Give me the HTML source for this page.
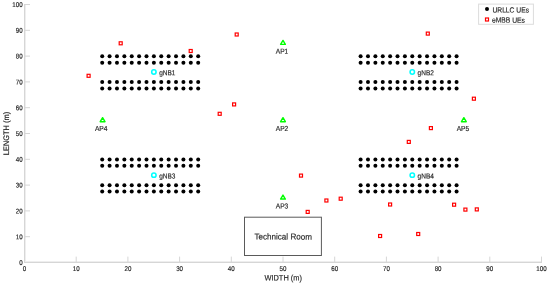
<!DOCTYPE html>
<html><head><meta charset="utf-8"><style>
html,body{margin:0;padding:0;background:#fff;width:550px;height:285px;overflow:hidden}
svg{display:block}
text{font-family:"Liberation Sans",Arial,sans-serif;fill:#262626;stroke:#262626;stroke-width:0.15px}
.tk{font-size:6.2px}
.lb{font-size:7.45px}
.tx{font-size:6.5px}
.lg{font-size:6.75px}
.ap{font-size:6.65px}
.tr{font-size:8.1px}
</style></head><body>
<svg width="550" height="285" viewBox="0 0 550 285">
<rect width="550" height="285" fill="#fff"/>
<line x1="25.5" y1="4" x2="25.5" y2="262" stroke="#eeeeee" stroke-width="1"/>
<line x1="25" y1="261.5" x2="542" y2="261.5" stroke="#eeeeee" stroke-width="1"/>
<line x1="24.5" y1="4" x2="24.5" y2="263" stroke="#d6d6d6" stroke-width="1"/>
<line x1="24" y1="262.5" x2="542" y2="262.5" stroke="#d6d6d6" stroke-width="1"/>
<text transform="translate(24.50,270.90) rotate(0.1) scale(1,1.12)" class="tk" text-anchor="middle">0</text>
<line x1="76.20" y1="262" x2="76.20" y2="256.6" stroke="#d6d6d6" stroke-width="1"/>
<text transform="translate(76.20,270.90) rotate(0.1) scale(1,1.12)" class="tk" text-anchor="middle">10</text>
<line x1="127.90" y1="262" x2="127.90" y2="256.6" stroke="#d6d6d6" stroke-width="1"/>
<text transform="translate(127.90,270.90) rotate(0.1) scale(1,1.12)" class="tk" text-anchor="middle">20</text>
<line x1="179.60" y1="262" x2="179.60" y2="256.6" stroke="#d6d6d6" stroke-width="1"/>
<text transform="translate(179.60,270.90) rotate(0.1) scale(1,1.12)" class="tk" text-anchor="middle">30</text>
<line x1="231.30" y1="262" x2="231.30" y2="256.6" stroke="#d6d6d6" stroke-width="1"/>
<text transform="translate(231.30,270.90) rotate(0.1) scale(1,1.12)" class="tk" text-anchor="middle">40</text>
<line x1="283.00" y1="262" x2="283.00" y2="256.6" stroke="#d6d6d6" stroke-width="1"/>
<text transform="translate(283.00,270.90) rotate(0.1) scale(1,1.12)" class="tk" text-anchor="middle">50</text>
<line x1="334.70" y1="262" x2="334.70" y2="256.6" stroke="#d6d6d6" stroke-width="1"/>
<text transform="translate(334.70,270.90) rotate(0.1) scale(1,1.12)" class="tk" text-anchor="middle">60</text>
<line x1="386.40" y1="262" x2="386.40" y2="256.6" stroke="#d6d6d6" stroke-width="1"/>
<text transform="translate(386.40,270.90) rotate(0.1) scale(1,1.12)" class="tk" text-anchor="middle">70</text>
<line x1="438.10" y1="262" x2="438.10" y2="256.6" stroke="#d6d6d6" stroke-width="1"/>
<text transform="translate(438.10,270.90) rotate(0.1) scale(1,1.12)" class="tk" text-anchor="middle">80</text>
<line x1="489.80" y1="262" x2="489.80" y2="256.6" stroke="#d6d6d6" stroke-width="1"/>
<text transform="translate(489.80,270.90) rotate(0.1) scale(1,1.12)" class="tk" text-anchor="middle">90</text>
<line x1="541.50" y1="262" x2="541.50" y2="256.6" stroke="#d6d6d6" stroke-width="1"/>
<text transform="translate(541.50,270.90) rotate(0.1) scale(1,1.12)" class="tk" text-anchor="middle">100</text>
<text transform="translate(22.70,265.00) rotate(0.1) scale(1,1.12)" class="tk" text-anchor="end">0</text>
<line x1="25" y1="236.70" x2="30" y2="236.70" stroke="#d6d6d6" stroke-width="1"/>
<text transform="translate(22.70,239.20) rotate(0.1) scale(1,1.12)" class="tk" text-anchor="end">10</text>
<line x1="25" y1="210.90" x2="30" y2="210.90" stroke="#d6d6d6" stroke-width="1"/>
<text transform="translate(22.70,213.40) rotate(0.1) scale(1,1.12)" class="tk" text-anchor="end">20</text>
<line x1="25" y1="185.10" x2="30" y2="185.10" stroke="#d6d6d6" stroke-width="1"/>
<text transform="translate(22.70,187.60) rotate(0.1) scale(1,1.12)" class="tk" text-anchor="end">30</text>
<line x1="25" y1="159.30" x2="30" y2="159.30" stroke="#d6d6d6" stroke-width="1"/>
<text transform="translate(22.70,161.80) rotate(0.1) scale(1,1.12)" class="tk" text-anchor="end">40</text>
<line x1="25" y1="133.50" x2="30" y2="133.50" stroke="#d6d6d6" stroke-width="1"/>
<text transform="translate(22.70,136.00) rotate(0.1) scale(1,1.12)" class="tk" text-anchor="end">50</text>
<line x1="25" y1="107.70" x2="30" y2="107.70" stroke="#d6d6d6" stroke-width="1"/>
<text transform="translate(22.70,110.20) rotate(0.1) scale(1,1.12)" class="tk" text-anchor="end">60</text>
<line x1="25" y1="81.90" x2="30" y2="81.90" stroke="#d6d6d6" stroke-width="1"/>
<text transform="translate(22.70,84.40) rotate(0.1) scale(1,1.12)" class="tk" text-anchor="end">70</text>
<line x1="25" y1="56.10" x2="30" y2="56.10" stroke="#d6d6d6" stroke-width="1"/>
<text transform="translate(22.70,58.60) rotate(0.1) scale(1,1.12)" class="tk" text-anchor="end">80</text>
<line x1="25" y1="30.30" x2="30" y2="30.30" stroke="#d6d6d6" stroke-width="1"/>
<text transform="translate(22.70,32.80) rotate(0.1) scale(1,1.12)" class="tk" text-anchor="end">90</text>
<line x1="25" y1="4.50" x2="30" y2="4.50" stroke="#d6d6d6" stroke-width="1"/>
<text transform="translate(22.70,7.00) rotate(0.1) scale(1,1.12)" class="tk" text-anchor="end">100</text>
<text transform="translate(283.20,280.60) rotate(0.1) scale(1,1.08)" class="lb" text-anchor="middle">WIDTH (m)</text>
<text transform="translate(9.00,133.50) rotate(-90) rotate(0.1) scale(1,1.08)" class="lb" text-anchor="middle">LENGTH (m)</text>
<rect x="244.5" y="217.2" width="76.9" height="38.3" fill="none" stroke="#5a5a5a" stroke-width="1"/>
<text transform="translate(283.20,239.60) rotate(0.1) scale(1,1.05)" class="tr" text-anchor="middle">Technical Room</text>
<circle cx="102.20" cy="56.26" r="2.0" fill="#000"/>
<circle cx="109.58" cy="56.26" r="2.0" fill="#000"/>
<circle cx="116.97" cy="56.26" r="2.0" fill="#000"/>
<circle cx="124.35" cy="56.26" r="2.0" fill="#000"/>
<circle cx="131.73" cy="56.26" r="2.0" fill="#000"/>
<circle cx="139.11" cy="56.26" r="2.0" fill="#000"/>
<circle cx="146.50" cy="56.26" r="2.0" fill="#000"/>
<circle cx="153.88" cy="56.26" r="2.0" fill="#000"/>
<circle cx="161.26" cy="56.26" r="2.0" fill="#000"/>
<circle cx="168.65" cy="56.26" r="2.0" fill="#000"/>
<circle cx="176.03" cy="56.26" r="2.0" fill="#000"/>
<circle cx="183.41" cy="56.26" r="2.0" fill="#000"/>
<circle cx="190.79" cy="56.26" r="2.0" fill="#000"/>
<circle cx="198.18" cy="56.26" r="2.0" fill="#000"/>
<circle cx="102.20" cy="62.70" r="2.0" fill="#000"/>
<circle cx="109.58" cy="62.70" r="2.0" fill="#000"/>
<circle cx="116.97" cy="62.70" r="2.0" fill="#000"/>
<circle cx="124.35" cy="62.70" r="2.0" fill="#000"/>
<circle cx="131.73" cy="62.70" r="2.0" fill="#000"/>
<circle cx="139.11" cy="62.70" r="2.0" fill="#000"/>
<circle cx="146.50" cy="62.70" r="2.0" fill="#000"/>
<circle cx="153.88" cy="62.70" r="2.0" fill="#000"/>
<circle cx="161.26" cy="62.70" r="2.0" fill="#000"/>
<circle cx="168.65" cy="62.70" r="2.0" fill="#000"/>
<circle cx="176.03" cy="62.70" r="2.0" fill="#000"/>
<circle cx="183.41" cy="62.70" r="2.0" fill="#000"/>
<circle cx="190.79" cy="62.70" r="2.0" fill="#000"/>
<circle cx="198.18" cy="62.70" r="2.0" fill="#000"/>
<circle cx="102.20" cy="82.04" r="2.0" fill="#000"/>
<circle cx="109.58" cy="82.04" r="2.0" fill="#000"/>
<circle cx="116.97" cy="82.04" r="2.0" fill="#000"/>
<circle cx="124.35" cy="82.04" r="2.0" fill="#000"/>
<circle cx="131.73" cy="82.04" r="2.0" fill="#000"/>
<circle cx="139.11" cy="82.04" r="2.0" fill="#000"/>
<circle cx="146.50" cy="82.04" r="2.0" fill="#000"/>
<circle cx="153.88" cy="82.04" r="2.0" fill="#000"/>
<circle cx="161.26" cy="82.04" r="2.0" fill="#000"/>
<circle cx="168.65" cy="82.04" r="2.0" fill="#000"/>
<circle cx="176.03" cy="82.04" r="2.0" fill="#000"/>
<circle cx="183.41" cy="82.04" r="2.0" fill="#000"/>
<circle cx="190.79" cy="82.04" r="2.0" fill="#000"/>
<circle cx="198.18" cy="82.04" r="2.0" fill="#000"/>
<circle cx="102.20" cy="88.48" r="2.0" fill="#000"/>
<circle cx="109.58" cy="88.48" r="2.0" fill="#000"/>
<circle cx="116.97" cy="88.48" r="2.0" fill="#000"/>
<circle cx="124.35" cy="88.48" r="2.0" fill="#000"/>
<circle cx="131.73" cy="88.48" r="2.0" fill="#000"/>
<circle cx="139.11" cy="88.48" r="2.0" fill="#000"/>
<circle cx="146.50" cy="88.48" r="2.0" fill="#000"/>
<circle cx="153.88" cy="88.48" r="2.0" fill="#000"/>
<circle cx="161.26" cy="88.48" r="2.0" fill="#000"/>
<circle cx="168.65" cy="88.48" r="2.0" fill="#000"/>
<circle cx="176.03" cy="88.48" r="2.0" fill="#000"/>
<circle cx="183.41" cy="88.48" r="2.0" fill="#000"/>
<circle cx="190.79" cy="88.48" r="2.0" fill="#000"/>
<circle cx="198.18" cy="88.48" r="2.0" fill="#000"/>
<circle cx="102.20" cy="159.38" r="2.0" fill="#000"/>
<circle cx="109.58" cy="159.38" r="2.0" fill="#000"/>
<circle cx="116.97" cy="159.38" r="2.0" fill="#000"/>
<circle cx="124.35" cy="159.38" r="2.0" fill="#000"/>
<circle cx="131.73" cy="159.38" r="2.0" fill="#000"/>
<circle cx="139.11" cy="159.38" r="2.0" fill="#000"/>
<circle cx="146.50" cy="159.38" r="2.0" fill="#000"/>
<circle cx="153.88" cy="159.38" r="2.0" fill="#000"/>
<circle cx="161.26" cy="159.38" r="2.0" fill="#000"/>
<circle cx="168.65" cy="159.38" r="2.0" fill="#000"/>
<circle cx="176.03" cy="159.38" r="2.0" fill="#000"/>
<circle cx="183.41" cy="159.38" r="2.0" fill="#000"/>
<circle cx="190.79" cy="159.38" r="2.0" fill="#000"/>
<circle cx="198.18" cy="159.38" r="2.0" fill="#000"/>
<circle cx="102.20" cy="165.82" r="2.0" fill="#000"/>
<circle cx="109.58" cy="165.82" r="2.0" fill="#000"/>
<circle cx="116.97" cy="165.82" r="2.0" fill="#000"/>
<circle cx="124.35" cy="165.82" r="2.0" fill="#000"/>
<circle cx="131.73" cy="165.82" r="2.0" fill="#000"/>
<circle cx="139.11" cy="165.82" r="2.0" fill="#000"/>
<circle cx="146.50" cy="165.82" r="2.0" fill="#000"/>
<circle cx="153.88" cy="165.82" r="2.0" fill="#000"/>
<circle cx="161.26" cy="165.82" r="2.0" fill="#000"/>
<circle cx="168.65" cy="165.82" r="2.0" fill="#000"/>
<circle cx="176.03" cy="165.82" r="2.0" fill="#000"/>
<circle cx="183.41" cy="165.82" r="2.0" fill="#000"/>
<circle cx="190.79" cy="165.82" r="2.0" fill="#000"/>
<circle cx="198.18" cy="165.82" r="2.0" fill="#000"/>
<circle cx="102.20" cy="185.16" r="2.0" fill="#000"/>
<circle cx="109.58" cy="185.16" r="2.0" fill="#000"/>
<circle cx="116.97" cy="185.16" r="2.0" fill="#000"/>
<circle cx="124.35" cy="185.16" r="2.0" fill="#000"/>
<circle cx="131.73" cy="185.16" r="2.0" fill="#000"/>
<circle cx="139.11" cy="185.16" r="2.0" fill="#000"/>
<circle cx="146.50" cy="185.16" r="2.0" fill="#000"/>
<circle cx="153.88" cy="185.16" r="2.0" fill="#000"/>
<circle cx="161.26" cy="185.16" r="2.0" fill="#000"/>
<circle cx="168.65" cy="185.16" r="2.0" fill="#000"/>
<circle cx="176.03" cy="185.16" r="2.0" fill="#000"/>
<circle cx="183.41" cy="185.16" r="2.0" fill="#000"/>
<circle cx="190.79" cy="185.16" r="2.0" fill="#000"/>
<circle cx="198.18" cy="185.16" r="2.0" fill="#000"/>
<circle cx="102.20" cy="191.61" r="2.0" fill="#000"/>
<circle cx="109.58" cy="191.61" r="2.0" fill="#000"/>
<circle cx="116.97" cy="191.61" r="2.0" fill="#000"/>
<circle cx="124.35" cy="191.61" r="2.0" fill="#000"/>
<circle cx="131.73" cy="191.61" r="2.0" fill="#000"/>
<circle cx="139.11" cy="191.61" r="2.0" fill="#000"/>
<circle cx="146.50" cy="191.61" r="2.0" fill="#000"/>
<circle cx="153.88" cy="191.61" r="2.0" fill="#000"/>
<circle cx="161.26" cy="191.61" r="2.0" fill="#000"/>
<circle cx="168.65" cy="191.61" r="2.0" fill="#000"/>
<circle cx="176.03" cy="191.61" r="2.0" fill="#000"/>
<circle cx="183.41" cy="191.61" r="2.0" fill="#000"/>
<circle cx="190.79" cy="191.61" r="2.0" fill="#000"/>
<circle cx="198.18" cy="191.61" r="2.0" fill="#000"/>
<circle cx="360.60" cy="56.26" r="2.0" fill="#000"/>
<circle cx="367.98" cy="56.26" r="2.0" fill="#000"/>
<circle cx="375.37" cy="56.26" r="2.0" fill="#000"/>
<circle cx="382.75" cy="56.26" r="2.0" fill="#000"/>
<circle cx="390.13" cy="56.26" r="2.0" fill="#000"/>
<circle cx="397.51" cy="56.26" r="2.0" fill="#000"/>
<circle cx="404.90" cy="56.26" r="2.0" fill="#000"/>
<circle cx="412.28" cy="56.26" r="2.0" fill="#000"/>
<circle cx="419.66" cy="56.26" r="2.0" fill="#000"/>
<circle cx="427.05" cy="56.26" r="2.0" fill="#000"/>
<circle cx="434.43" cy="56.26" r="2.0" fill="#000"/>
<circle cx="441.81" cy="56.26" r="2.0" fill="#000"/>
<circle cx="449.19" cy="56.26" r="2.0" fill="#000"/>
<circle cx="456.58" cy="56.26" r="2.0" fill="#000"/>
<circle cx="360.60" cy="62.70" r="2.0" fill="#000"/>
<circle cx="367.98" cy="62.70" r="2.0" fill="#000"/>
<circle cx="375.37" cy="62.70" r="2.0" fill="#000"/>
<circle cx="382.75" cy="62.70" r="2.0" fill="#000"/>
<circle cx="390.13" cy="62.70" r="2.0" fill="#000"/>
<circle cx="397.51" cy="62.70" r="2.0" fill="#000"/>
<circle cx="404.90" cy="62.70" r="2.0" fill="#000"/>
<circle cx="412.28" cy="62.70" r="2.0" fill="#000"/>
<circle cx="419.66" cy="62.70" r="2.0" fill="#000"/>
<circle cx="427.05" cy="62.70" r="2.0" fill="#000"/>
<circle cx="434.43" cy="62.70" r="2.0" fill="#000"/>
<circle cx="441.81" cy="62.70" r="2.0" fill="#000"/>
<circle cx="449.19" cy="62.70" r="2.0" fill="#000"/>
<circle cx="456.58" cy="62.70" r="2.0" fill="#000"/>
<circle cx="360.60" cy="82.04" r="2.0" fill="#000"/>
<circle cx="367.98" cy="82.04" r="2.0" fill="#000"/>
<circle cx="375.37" cy="82.04" r="2.0" fill="#000"/>
<circle cx="382.75" cy="82.04" r="2.0" fill="#000"/>
<circle cx="390.13" cy="82.04" r="2.0" fill="#000"/>
<circle cx="397.51" cy="82.04" r="2.0" fill="#000"/>
<circle cx="404.90" cy="82.04" r="2.0" fill="#000"/>
<circle cx="412.28" cy="82.04" r="2.0" fill="#000"/>
<circle cx="419.66" cy="82.04" r="2.0" fill="#000"/>
<circle cx="427.05" cy="82.04" r="2.0" fill="#000"/>
<circle cx="434.43" cy="82.04" r="2.0" fill="#000"/>
<circle cx="441.81" cy="82.04" r="2.0" fill="#000"/>
<circle cx="449.19" cy="82.04" r="2.0" fill="#000"/>
<circle cx="456.58" cy="82.04" r="2.0" fill="#000"/>
<circle cx="360.60" cy="88.48" r="2.0" fill="#000"/>
<circle cx="367.98" cy="88.48" r="2.0" fill="#000"/>
<circle cx="375.37" cy="88.48" r="2.0" fill="#000"/>
<circle cx="382.75" cy="88.48" r="2.0" fill="#000"/>
<circle cx="390.13" cy="88.48" r="2.0" fill="#000"/>
<circle cx="397.51" cy="88.48" r="2.0" fill="#000"/>
<circle cx="404.90" cy="88.48" r="2.0" fill="#000"/>
<circle cx="412.28" cy="88.48" r="2.0" fill="#000"/>
<circle cx="419.66" cy="88.48" r="2.0" fill="#000"/>
<circle cx="427.05" cy="88.48" r="2.0" fill="#000"/>
<circle cx="434.43" cy="88.48" r="2.0" fill="#000"/>
<circle cx="441.81" cy="88.48" r="2.0" fill="#000"/>
<circle cx="449.19" cy="88.48" r="2.0" fill="#000"/>
<circle cx="456.58" cy="88.48" r="2.0" fill="#000"/>
<circle cx="360.60" cy="159.38" r="2.0" fill="#000"/>
<circle cx="367.98" cy="159.38" r="2.0" fill="#000"/>
<circle cx="375.37" cy="159.38" r="2.0" fill="#000"/>
<circle cx="382.75" cy="159.38" r="2.0" fill="#000"/>
<circle cx="390.13" cy="159.38" r="2.0" fill="#000"/>
<circle cx="397.51" cy="159.38" r="2.0" fill="#000"/>
<circle cx="404.90" cy="159.38" r="2.0" fill="#000"/>
<circle cx="412.28" cy="159.38" r="2.0" fill="#000"/>
<circle cx="419.66" cy="159.38" r="2.0" fill="#000"/>
<circle cx="427.05" cy="159.38" r="2.0" fill="#000"/>
<circle cx="434.43" cy="159.38" r="2.0" fill="#000"/>
<circle cx="441.81" cy="159.38" r="2.0" fill="#000"/>
<circle cx="449.19" cy="159.38" r="2.0" fill="#000"/>
<circle cx="456.58" cy="159.38" r="2.0" fill="#000"/>
<circle cx="360.60" cy="165.82" r="2.0" fill="#000"/>
<circle cx="367.98" cy="165.82" r="2.0" fill="#000"/>
<circle cx="375.37" cy="165.82" r="2.0" fill="#000"/>
<circle cx="382.75" cy="165.82" r="2.0" fill="#000"/>
<circle cx="390.13" cy="165.82" r="2.0" fill="#000"/>
<circle cx="397.51" cy="165.82" r="2.0" fill="#000"/>
<circle cx="404.90" cy="165.82" r="2.0" fill="#000"/>
<circle cx="412.28" cy="165.82" r="2.0" fill="#000"/>
<circle cx="419.66" cy="165.82" r="2.0" fill="#000"/>
<circle cx="427.05" cy="165.82" r="2.0" fill="#000"/>
<circle cx="434.43" cy="165.82" r="2.0" fill="#000"/>
<circle cx="441.81" cy="165.82" r="2.0" fill="#000"/>
<circle cx="449.19" cy="165.82" r="2.0" fill="#000"/>
<circle cx="456.58" cy="165.82" r="2.0" fill="#000"/>
<circle cx="360.60" cy="185.16" r="2.0" fill="#000"/>
<circle cx="367.98" cy="185.16" r="2.0" fill="#000"/>
<circle cx="375.37" cy="185.16" r="2.0" fill="#000"/>
<circle cx="382.75" cy="185.16" r="2.0" fill="#000"/>
<circle cx="390.13" cy="185.16" r="2.0" fill="#000"/>
<circle cx="397.51" cy="185.16" r="2.0" fill="#000"/>
<circle cx="404.90" cy="185.16" r="2.0" fill="#000"/>
<circle cx="412.28" cy="185.16" r="2.0" fill="#000"/>
<circle cx="419.66" cy="185.16" r="2.0" fill="#000"/>
<circle cx="427.05" cy="185.16" r="2.0" fill="#000"/>
<circle cx="434.43" cy="185.16" r="2.0" fill="#000"/>
<circle cx="441.81" cy="185.16" r="2.0" fill="#000"/>
<circle cx="449.19" cy="185.16" r="2.0" fill="#000"/>
<circle cx="456.58" cy="185.16" r="2.0" fill="#000"/>
<circle cx="360.60" cy="191.61" r="2.0" fill="#000"/>
<circle cx="367.98" cy="191.61" r="2.0" fill="#000"/>
<circle cx="375.37" cy="191.61" r="2.0" fill="#000"/>
<circle cx="382.75" cy="191.61" r="2.0" fill="#000"/>
<circle cx="390.13" cy="191.61" r="2.0" fill="#000"/>
<circle cx="397.51" cy="191.61" r="2.0" fill="#000"/>
<circle cx="404.90" cy="191.61" r="2.0" fill="#000"/>
<circle cx="412.28" cy="191.61" r="2.0" fill="#000"/>
<circle cx="419.66" cy="191.61" r="2.0" fill="#000"/>
<circle cx="427.05" cy="191.61" r="2.0" fill="#000"/>
<circle cx="434.43" cy="191.61" r="2.0" fill="#000"/>
<circle cx="441.81" cy="191.61" r="2.0" fill="#000"/>
<circle cx="449.19" cy="191.61" r="2.0" fill="#000"/>
<circle cx="456.58" cy="191.61" r="2.0" fill="#000"/>
<circle cx="153.88" cy="72.02" r="2.2" fill="none" stroke="#00ffff" stroke-width="1.55"/>
<text transform="translate(159.18,75.27) rotate(0.1) scale(1,1.12)" class="tx" text-anchor="start">gNB1</text>
<circle cx="412.28" cy="72.02" r="2.2" fill="none" stroke="#00ffff" stroke-width="1.55"/>
<text transform="translate(417.58,75.27) rotate(0.1) scale(1,1.12)" class="tx" text-anchor="start">gNB2</text>
<circle cx="153.88" cy="175.14" r="2.2" fill="none" stroke="#00ffff" stroke-width="1.55"/>
<text transform="translate(159.18,178.39) rotate(0.1) scale(1,1.12)" class="tx" text-anchor="start">gNB3</text>
<circle cx="412.28" cy="175.14" r="2.2" fill="none" stroke="#00ffff" stroke-width="1.55"/>
<text transform="translate(417.58,178.39) rotate(0.1) scale(1,1.12)" class="tx" text-anchor="start">gNB4</text>
<path d="M282.98,40.37 L285.38,44.37 L280.58,44.37 Z" fill="none" stroke="#00ff00" stroke-width="1.4" stroke-linejoin="round"/>
<text transform="translate(282.03,53.77) rotate(0.1) scale(1,1.1)" class="ap" text-anchor="middle">AP1</text>
<path d="M282.98,117.71 L285.38,121.71 L280.58,121.71 Z" fill="none" stroke="#00ff00" stroke-width="1.4" stroke-linejoin="round"/>
<text transform="translate(282.03,131.11) rotate(0.1) scale(1,1.1)" class="ap" text-anchor="middle">AP2</text>
<path d="M282.98,195.05 L285.38,199.05 L280.58,199.05 Z" fill="none" stroke="#00ff00" stroke-width="1.4" stroke-linejoin="round"/>
<text transform="translate(282.03,208.45) rotate(0.1) scale(1,1.1)" class="ap" text-anchor="middle">AP3</text>
<path d="M102.60,117.71 L105.00,121.71 L100.20,121.71 Z" fill="none" stroke="#00ff00" stroke-width="1.4" stroke-linejoin="round"/>
<text transform="translate(101.15,131.11) rotate(0.1) scale(1,1.1)" class="ap" text-anchor="middle">AP4</text>
<path d="M463.86,117.71 L466.26,121.71 L461.46,121.71 Z" fill="none" stroke="#00ff00" stroke-width="1.4" stroke-linejoin="round"/>
<text transform="translate(462.91,131.11) rotate(0.1) scale(1,1.1)" class="ap" text-anchor="middle">AP5</text>
<rect x="119.20" y="41.80" width="3.0" height="3.0" fill="none" stroke="#ff0000" stroke-width="1.2"/>
<rect x="189.20" y="49.50" width="3.0" height="3.0" fill="none" stroke="#ff0000" stroke-width="1.2"/>
<rect x="235.20" y="33.00" width="3.0" height="3.0" fill="none" stroke="#ff0000" stroke-width="1.2"/>
<rect x="87.10" y="74.30" width="3.0" height="3.0" fill="none" stroke="#ff0000" stroke-width="1.2"/>
<rect x="426.30" y="32.10" width="3.0" height="3.0" fill="none" stroke="#ff0000" stroke-width="1.2"/>
<rect x="472.40" y="97.20" width="3.0" height="3.0" fill="none" stroke="#ff0000" stroke-width="1.2"/>
<rect x="232.60" y="102.90" width="3.0" height="3.0" fill="none" stroke="#ff0000" stroke-width="1.2"/>
<rect x="218.20" y="112.30" width="3.0" height="3.0" fill="none" stroke="#ff0000" stroke-width="1.2"/>
<rect x="429.40" y="126.60" width="3.0" height="3.0" fill="none" stroke="#ff0000" stroke-width="1.2"/>
<rect x="407.30" y="140.40" width="3.0" height="3.0" fill="none" stroke="#ff0000" stroke-width="1.2"/>
<rect x="299.50" y="174.10" width="3.0" height="3.0" fill="none" stroke="#ff0000" stroke-width="1.2"/>
<rect x="324.90" y="199.00" width="3.0" height="3.0" fill="none" stroke="#ff0000" stroke-width="1.2"/>
<rect x="339.20" y="197.20" width="3.0" height="3.0" fill="none" stroke="#ff0000" stroke-width="1.2"/>
<rect x="306.20" y="210.40" width="3.0" height="3.0" fill="none" stroke="#ff0000" stroke-width="1.2"/>
<rect x="388.60" y="203.00" width="3.0" height="3.0" fill="none" stroke="#ff0000" stroke-width="1.2"/>
<rect x="452.60" y="203.20" width="3.0" height="3.0" fill="none" stroke="#ff0000" stroke-width="1.2"/>
<rect x="463.90" y="208.10" width="3.0" height="3.0" fill="none" stroke="#ff0000" stroke-width="1.2"/>
<rect x="475.30" y="207.90" width="3.0" height="3.0" fill="none" stroke="#ff0000" stroke-width="1.2"/>
<rect x="378.60" y="234.50" width="3.0" height="3.0" fill="none" stroke="#ff0000" stroke-width="1.2"/>
<rect x="416.70" y="232.50" width="3.0" height="3.0" fill="none" stroke="#ff0000" stroke-width="1.2"/>
<rect x="478.6" y="4.1" width="54.8" height="20.2" fill="#fff" stroke="#dcdcdc" stroke-width="1"/>
<circle cx="487.0" cy="9.1" r="2.0" fill="#000"/>
<text transform="translate(492.40,12.40) rotate(0.1) scale(1,1.1)" class="lg" text-anchor="start">URLLC UEs</text>
<rect x="485.5" y="18.0" width="3.0" height="3.0" fill="none" stroke="#ff0000" stroke-width="1.2"/>
<text transform="translate(492.00,22.60) rotate(0.1) scale(1,1.1)" class="lg" text-anchor="start">eMBB UEs</text>
</svg>
</body></html>
